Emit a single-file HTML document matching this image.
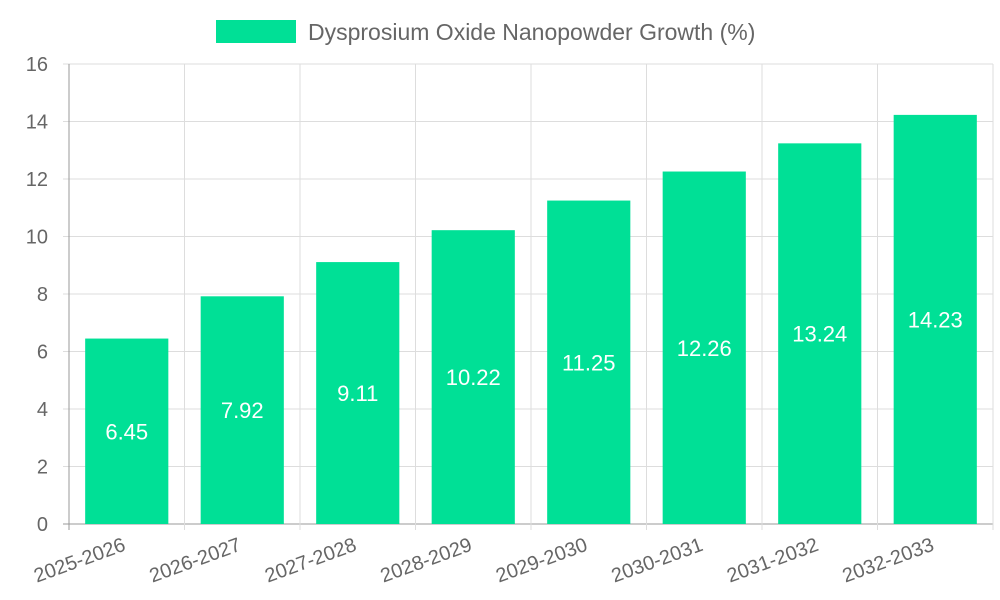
<!DOCTYPE html>
<html><head><meta charset="utf-8"><style>
body{margin:0;background:#fff;}
svg{display:block;font-family:"Liberation Sans",sans-serif;}
</style></head><body>
<svg id="chart" width="1000" height="600">
<g id="legend">
<rect x="216" y="20" width="80" height="23" fill="#00e096"/>
<text x="308" y="40" font-size="23" fill="#666">Dysprosium Oxide Nanopowder Growth (%)</text>
</g>
<g id="grid"></g><g id="bars"></g><g id="labels"></g>
</svg>
<script>
const categories=["2025-2026","2026-2027","2027-2028","2028-2029","2029-2030","2030-2031","2031-2032","2032-2033"];
const values=[6.45,7.92,9.11,10.22,11.25,12.26,13.24,14.23];
const yTicks=[0,2,4,6,8,10,12,14,16];
const L=69,R=993,T=64,B=524,yMax=16;
const ns="http://www.w3.org/2000/svg";
const bw=(R-L)/categories.length;
const y=v=>B-(v/yMax)*(B-T);
const x=i=>L+bw*i;
function mk(tag,attrs,parent,text){const e=document.createElementNS(ns,tag);for(const k in attrs)e.setAttribute(k,attrs[k]);if(text!==undefined)e.textContent=text;document.getElementById(parent).appendChild(e);return e;}
yTicks.forEach(t=>{
 const g=mk('line',{x1:L-6,x2:R,y1:y(t),y2:y(t),stroke:t===0?'#999':'#ddd','stroke-width':1},'grid');
 
 
 const l=mk('text',{x:48,y:y(t)+7,'text-anchor':'end','font-size':20,fill:'#666'},'labels',t);
 
 
});
for(let i=0;i<=categories.length;i++){
 const g=mk('line',{x1:x(i),x2:x(i),y1:T,y2:B+6,stroke:i===0?'#999':'#ddd','stroke-width':1},'grid');
 
 
}
categories.forEach((c,i)=>{
 const cx=x(i)+bw/2, w=bw*0.72;
 const r=mk('rect',{x:cx-w/2,y:y(values[i]),width:w,height:B-y(values[i]),fill:'#00e096'},'bars');
 
 
 const v=mk('text',{x:cx,y:(y(values[i])+B)/2+8,'text-anchor':'middle','font-size':22,fill:'#fff'},'labels',values[i].toFixed(2));
 
 
 const t=mk('text',{x:cx,y:B+26,'text-anchor':'end','font-size':20,fill:'#666',transform:`rotate(-20 ${cx} ${B+26})`},'labels',c);
 
 
});
</script>
</body></html>
